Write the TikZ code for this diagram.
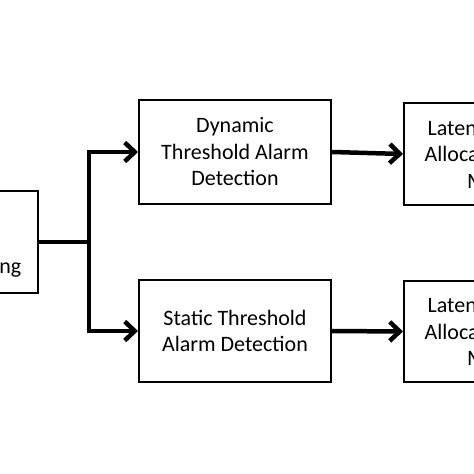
\documentclass[tikz,border=0pt]{standalone}
\usepackage{fontspec}
\setmainfont{Carlito}
\usetikzlibrary{arrows.meta}
\tikzset{
  blockbox/.style={draw=black, line width=2pt, align=center, inner sep=0pt,
    font=\fontsize{22}{26.5}\selectfont},
  flowline/.style={line width=4.5pt, line join=miter},
  flowarrow/.style={flowline, -{Straight Barb[length=10pt,width=19pt]}}
}
\begin{document}
\begin{tikzpicture}[x=1pt,y=-1pt]
\useasboundingbox (0,0) rectangle (474,474);
\clip (0,0) rectangle (474,474);
\fill[white] (0,0) rectangle (474,474);
\node[blockbox, minimum width=128pt, minimum height=102pt] (pre) at (-26,242) {Raw\\Data\\Processing};
\node[blockbox, minimum width=192pt, minimum height=104pt] (dyn) at (235,152) {Dynamic\\Threshold Alarm\\Detection};
\node[blockbox, minimum width=192pt, minimum height=102pt] (sta) at (235,331) {Static Threshold\\Alarm Detection};
\node[blockbox, minimum width=184pt, minimum height=102pt] (lda1) at (496,154) {Latent Dirichlet\\Allocation (LDA)\\Model};
\node[blockbox, minimum width=184pt, minimum height=101pt] (lda2) at (496,331.5) {Latent Dirichlet\\Allocation (LDA)\\Model};
\coordinate (split) at (89,242);
\draw[flowline] (pre.east) -- (split);
\draw[flowarrow] (split) |- (dyn.west);
\draw[flowarrow] (split) |- (sta.west);
\draw[flowarrow] (dyn.east) -- (lda1.west);
\draw[flowarrow] (sta.east) -- (lda2.west);
\end{tikzpicture}
\end{document}
